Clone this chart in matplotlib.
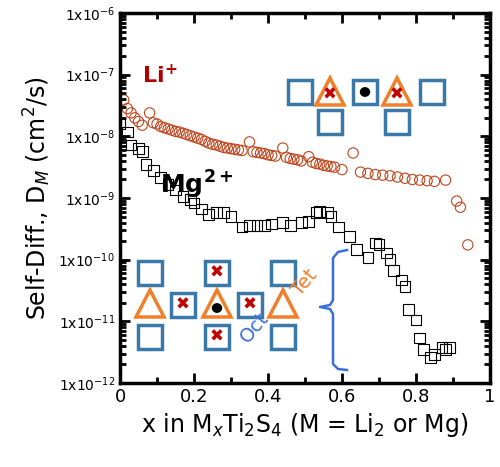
import numpy as np
import matplotlib.pyplot as plt
from matplotlib.patches import Rectangle, Polygon, Circle
from matplotlib.lines import Line2D
from matplotlib.ticker import FixedLocator, LogLocator, NullFormatter

# Li+ self-diffusion (log10 values)
li_x = [0.01, 0.02, 0.03, 0.04, 0.05, 0.06, 0.08, 0.09, 0.10, 0.11, 0.12, 0.13, 0.14, 0.15, 0.16,
        0.17, 0.18, 0.19, 0.20, 0.21, 0.22, 0.23, 0.24, 0.25, 0.26, 0.27, 0.28, 0.29, 0.30, 0.31,
        0.32, 0.33, 0.35, 0.36, 0.37, 0.38, 0.39, 0.40, 0.41, 0.42, 0.44, 0.45, 0.46, 0.47, 0.48,
        0.49, 0.51, 0.52, 0.53, 0.54, 0.55, 0.56, 0.57, 0.58, 0.60, 0.63, 0.65, 0.67, 0.69, 0.71,
        0.73, 0.75, 0.77, 0.79, 0.81, 0.83, 0.85, 0.88, 0.91, 0.92, 0.94]
li_log = [-7.41, -7.55, -7.62, -7.70, -7.76, -7.82, -7.62, -7.78, -7.80, -7.84, -7.86, -7.88, -7.90,
          -7.92, -7.93, -7.95, -7.97, -7.99, -8.01, -8.03, -8.05, -8.08, -8.11, -8.13, -8.14, -8.16,
          -8.18, -8.19, -8.20, -8.21, -8.22, -8.23, -8.09, -8.25, -8.26, -8.27, -8.28, -8.30, -8.31,
          -8.32, -8.19, -8.34, -8.36, -8.37, -8.38, -8.40, -8.33, -8.42, -8.44, -8.45, -8.47, -8.48,
          -8.49, -8.50, -8.54, -8.27, -8.58, -8.60, -8.62, -8.63, -8.64, -8.66, -8.68, -8.70, -8.71,
          -8.72, -8.73, -8.71, -9.05, -9.15, -9.76]

# Mg2+ self-diffusion
mg_x = [0.00, 0.02, 0.03, 0.05, 0.06, 0.07, 0.09, 0.11, 0.13, 0.15, 0.17, 0.19, 0.20, 0.22, 0.24,
        0.26, 0.28, 0.30, 0.33, 0.35, 0.37, 0.39, 0.41, 0.44, 0.46, 0.49, 0.51, 0.53, 0.54, 0.56,
        0.57, 0.59, 0.62, 0.64, 0.67, 0.69, 0.70, 0.72, 0.73, 0.74, 0.76, 0.77, 0.78, 0.80, 0.81,
        0.82, 0.84, 0.85, 0.87, 0.88, 0.89]
mg_log = [-7.80, -7.93, -8.14, -8.20, -8.25, -8.46, -8.55, -8.67, -8.78, -8.87, -8.98, -9.03, -9.08,
          -9.18, -9.27, -9.24, -9.24, -9.30, -9.47, -9.45, -9.44, -9.44, -9.42, -9.40, -9.44, -9.40,
          -9.38, -9.24, -9.22, -9.24, -9.30, -9.47, -9.63, -9.84, -9.97, -9.73, -9.76, -9.89, -10.00,
          -10.17, -10.33, -10.44, -10.81, -10.98, -11.27, -11.46, -11.59, -11.54, -11.43, -11.46,
          -11.43]

y_ticks = [1e-12, 1e-11, 1e-10, 1e-9, 1e-8, 1e-7, 1e-6]
y_labels = ["1x10$^{-12}$", "1x10$^{-11}$", "1x10$^{-10}$", "1x10$^{-9}$",
            "1x10$^{-8}$", "1x10$^{-7}$", "1x10$^{-6}$"]
x_ticks = [0, 0.2, 0.4, 0.6, 0.8, 1]
x_labels = ["0", "0.2", "0.4", "0.6", "0.8", "1"]

fig = plt.figure(figsize=(5, 4.67), dpi=100)
ax = fig.add_axes([120 / 500, 1 - 383 / 467, 370 / 500, 370 / 467])

ax.scatter(li_x, 10 ** np.array(li_log), s=55, facecolors='none', edgecolors='#c0441c', linewidths=0.8)
ax.scatter(mg_x, 10 ** np.array(mg_log), s=60, marker='s', facecolors='none', edgecolors='black', linewidths=0.8)

ax.set_yscale('log')
ax.set_xlim(0, 1)
ax.set_ylim(1e-12, 1e-6)
ax.set_yticks(y_ticks)
ax.set_yticklabels(y_labels, fontsize=10)
ax.yaxis.set_minor_locator(LogLocator(base=10, subs=np.arange(2, 10)))
ax.yaxis.set_minor_formatter(NullFormatter())
ax.set_xticks(x_ticks)
ax.set_xticklabels(x_labels, fontsize=13)
ax.xaxis.set_minor_locator(FixedLocator(np.arange(0.1, 1, 0.2)))
ax.tick_params(which='both', direction='in', top=True, right=True, width=2)
ax.tick_params(which='major', length=7)
ax.tick_params(which='minor', length=4)
for s in ax.spines.values():
    s.set_linewidth(2.5)

ax.set_ylabel("Self-Diff., D$_M$ (cm$^2$/s)", fontsize=17)
ax.set_xlabel("x in M$_x$Ti$_2$S$_4$ (M = Li$_2$ or Mg)", fontsize=17)

fig.text(160 / 500, 1 - 75 / 467, r"Li$^{\mathbf{+}}$", color='#b00000', fontsize=16, fontweight='bold', ha='center', va='center')
fig.text(197 / 500, 1 - 185 / 467, r"Mg$^{\mathbf{2+}}$", color='black', fontsize=18, fontweight='bold', ha='center', va='center')

# schematic site diagrams (pixel positions)
blue, orange, red = '#3a78a8', '#f07f2a', '#c00000'
S = 24


def px(x, y):
    return x / 500, 1 - y / 467


def square(x, y, cross=False, dot=False):
    x0, y0 = px(x - S / 2, y + S / 2)
    fig.add_artist(Rectangle((x0, y0), S / 500, S / 467, fill=False, ec=blue, lw=2.5, transform=fig.transFigure))
    if cross:
        fig.text(*px(x, y), "✖", color=red, fontsize=12, ha='center', va='center')
    if dot:
        fig.add_artist(Circle(px(x, y), 4.5 / 500, color='black', transform=fig.transFigure))


def triangle(x, y, cross=False, dot=False):
    pts = [px(x - 14, y + 12), px(x + 14, y + 12), px(x, y - 15)]
    fig.add_artist(Polygon(pts, closed=True, fill=False, ec=orange, lw=2.5, transform=fig.transFigure))
    if cross:
        fig.text(*px(x, y + 2), "✖", color=red, fontsize=12, ha='center', va='center')
    if dot:
        fig.add_artist(Circle(px(x, y + 3), 4.5 / 500, color='black', transform=fig.transFigure))


# top diagram
square(300, 92)
triangle(330, 93, cross=True)
square(365, 92, dot=True)
triangle(397, 93, cross=True)
square(432, 92)
square(330, 122)
square(397, 122)

# bottom diagram
for xx in (150, 283):
    square(xx, 273)
    square(xx, 337)
    triangle(xx, 305)
square(217, 273, cross=True)
square(217, 337, cross=True)
square(183, 305, cross=True)
square(250, 305, cross=True)
triangle(217, 305, dot=True)

fig.text(*px(305, 283), "Tet", color=orange, fontsize=14, rotation=50, ha='center', va='center')
fig.text(*px(255, 328), "Oct", color='#3a6fd8', fontsize=14, rotation=50, ha='center', va='center')

# curly brace
bx = [347, 338, 333, 333, 330, 320, 330, 333, 333, 338, 347]
by = [250, 252, 258, 300, 305, 307, 309, 314, 364, 369, 370]
fig.add_artist(Line2D([v / 500 for v in bx], [1 - v / 467 for v in by], color='#3a6fd8', lw=1.8,
                      transform=fig.transFigure))

fig.savefig("out.png", dpi=100)
